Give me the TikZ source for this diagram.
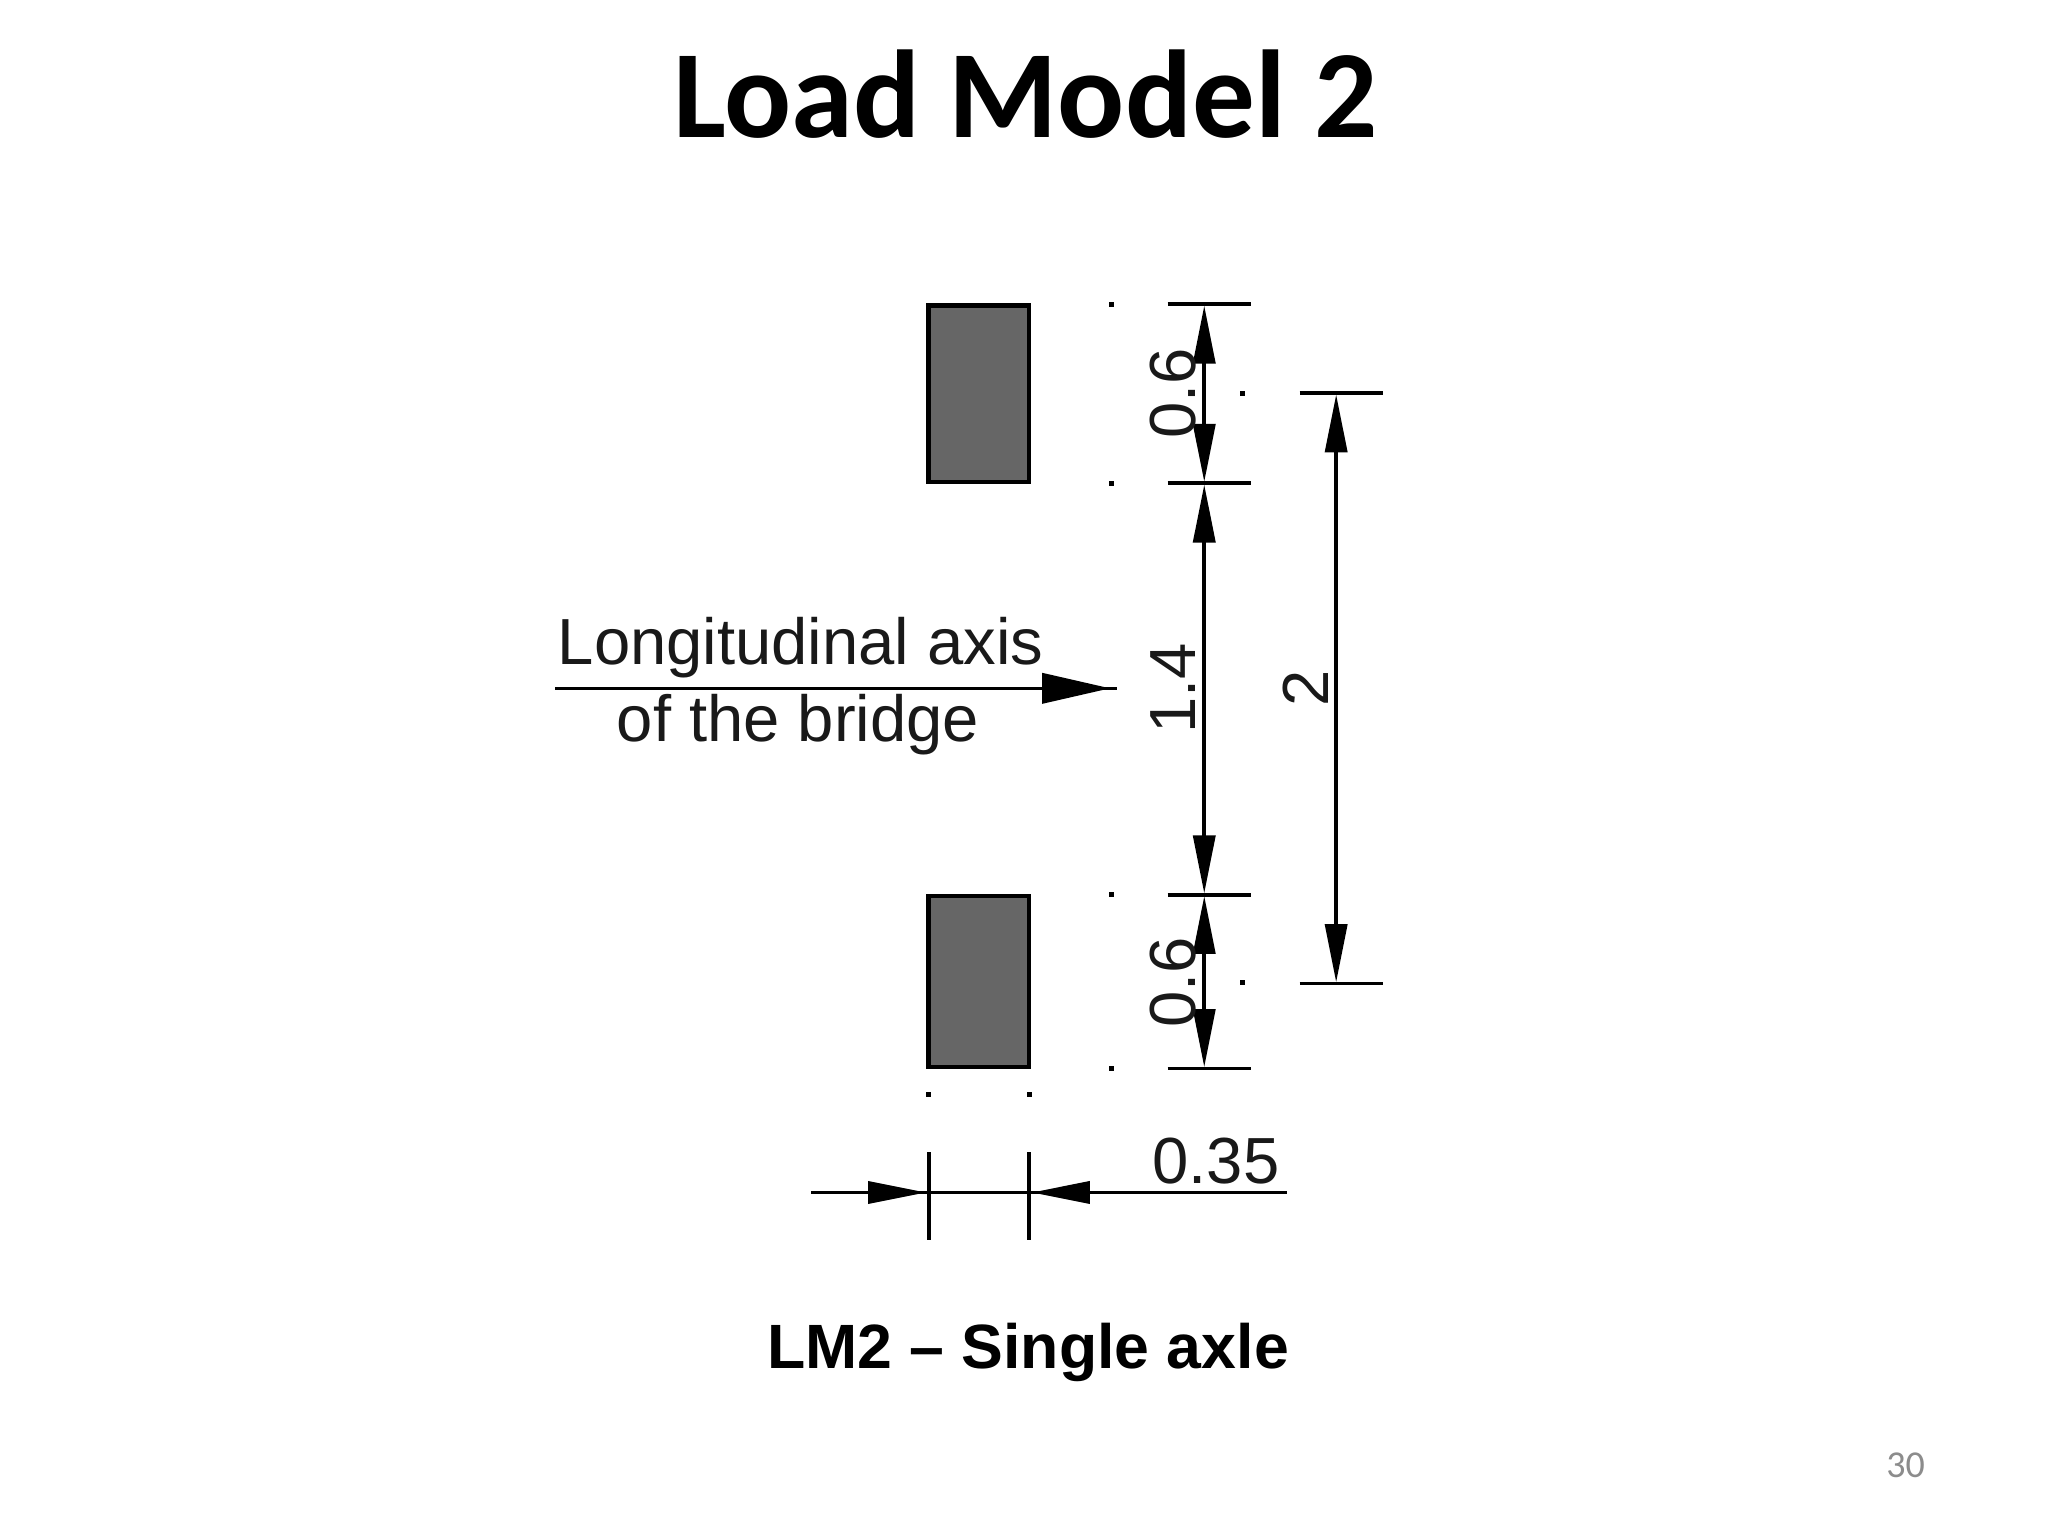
\documentclass[tikz,border=0pt]{standalone}
\usepackage{fontspec}
\setmainfont{Liberation Sans}
\newfontfamily\titlefont{Carlito}
\usetikzlibrary{arrows.meta}
\tikzset{
  dimline/.style={line width=1.8pt,black},
  tickline/.style={line width=1.9pt,black},
  head/.style={-{Triangle[length=29pt,width=11pt]}},
  twohead/.style={{Triangle[length=29pt,width=11pt]}-{Triangle[length=29pt,width=11pt]}},
  wheel/.style={draw=black,line width=2.2pt,fill=black!60,inner sep=0pt,outer sep=0pt,minimum width=50.3pt,anchor=north west},
  lab/.style={inner sep=0pt,anchor=base,font=\fontsize{32.6}{36}\selectfont,text=black!90},
  dotmark/.style={fill=black,inner sep=0pt,minimum size=2.4pt},
}
\begin{document}
\begin{tikzpicture}[x=0.6531pt,y=-0.6531pt]
\useasboundingbox (0,0) rectangle (1568,1176);
% title and page number
\node[inner sep=0pt,anchor=base] (title) at (785,105) {\titlefont\bfseries\fontsize{62.5}{70}\selectfont Load Model 2};
\node[inner sep=0pt,anchor=base,text=black!45] (page) at (1459,1131) {\titlefont\fontsize{19}{22}\selectfont 30};
% wheel patches
\node[wheel,minimum height=88.2pt] (wa) at (711,234) {};
\node[wheel,minimum height=85.6pt] (wb) at (711,686) {};
% dimension ticks
\draw[tickline] (894,233) -- (958,233);
\draw[tickline] (894,370) -- (958,370);
\draw[tickline] (894,685) -- (958,685);
\draw[tickline] (894,818) -- (958,818);
\draw[tickline] (995,301) -- (1059,301);
\draw[tickline] (995,753) -- (1059,753);
% vertical dimension lines
\draw[dimline,head] (922,301) -- (922,234);
\draw[dimline,head] (922,301) -- (922,369);
\draw[dimline,twohead] (922,371) -- (922,684);
\draw[dimline,head] (922,752) -- (922,686);
\draw[dimline,head] (922,752) -- (922,817);
\draw[dimline,twohead] (1023,302) -- (1023,752);
% axis arrow
\coordinate (ax1) at (425,527); \coordinate (ax2) at (855,527);
\draw[dimline] (ax1) -- (ax2);
\draw[dimline,-{Triangle[length=34pt,width=15pt]}] (790,527) -- (850,527);
% bottom dimension
\draw[tickline] (711,882) -- (711,949);
\draw[tickline] (788,882) -- (788,949);
\draw[dimline] (621,913) -- (985,913);
\draw[dimline,head] (650,913) -- (709,913);
\draw[dimline,head] (850,913) -- (790,913);
% labels
\node[lab] (l1) at (613,509) {Longitudinal axis};
\node[lab] (l2) at (611,568) {of the bridge};
\node[lab] (d35) at (931,906) {0.35};
\node[lab,font=\fontsize{31.3}{36}\selectfont\bfseries,text=black] (cap) at (787,1048) {LM2 – Single axle};
\node[lab,rotate=90] (d1) at (915,301) {0.6};
\node[lab,rotate=90] (d2) at (915,752) {0.6};
\node[lab,rotate=90] (d3) at (915,527) {1.4};
\node[lab,rotate=90] (d4) at (1017,527) {2};
% stray construction dots
\foreach \n/\x/\y in {p1/851/233,p2/851/370,p3/851/685,p4/851/818,p5/951/301,p6/951/752,p7/711/838,p8/788/838}
  \node[dotmark] (\n) at (\x,\y) {};
\end{tikzpicture}
\end{document}
